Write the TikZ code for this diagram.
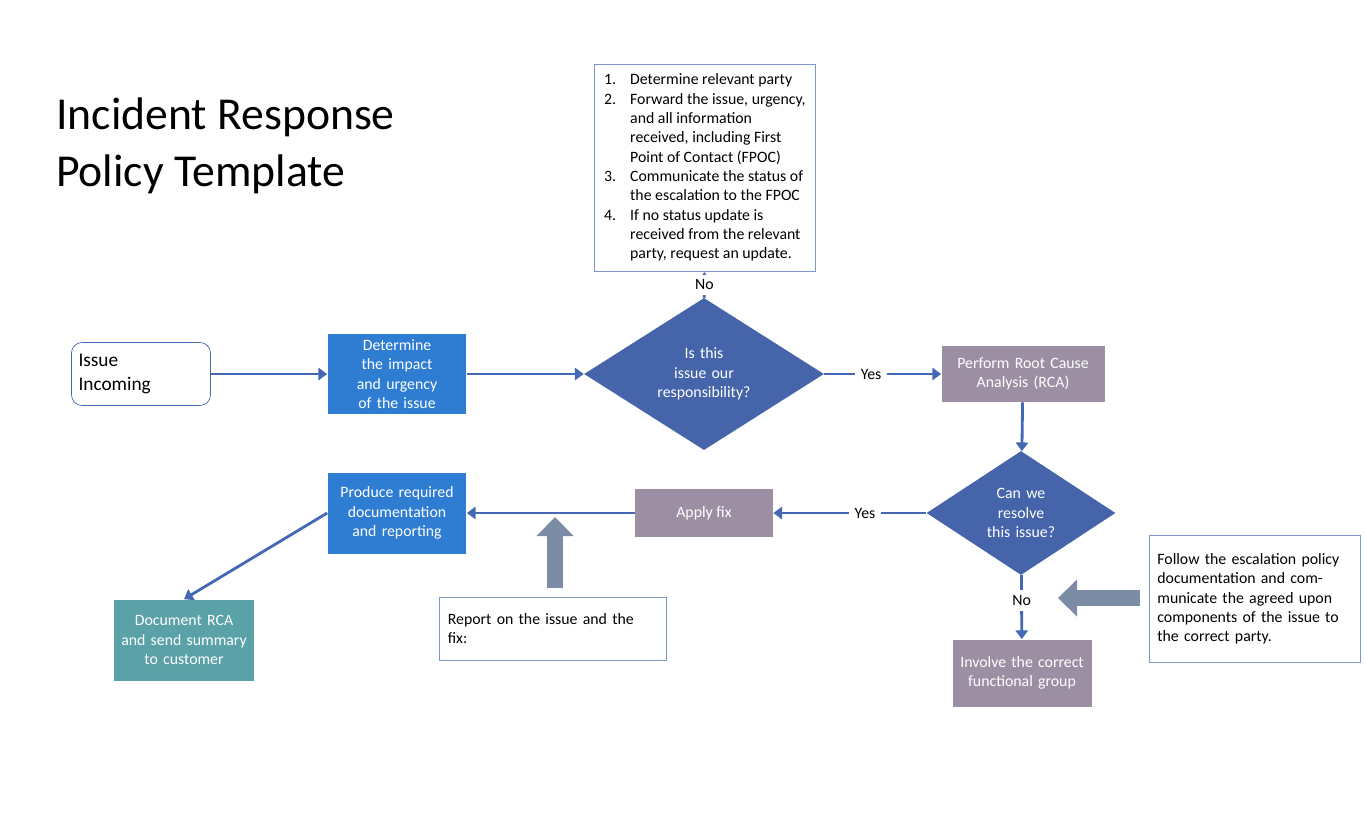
\documentclass[tikz,border=0pt]{standalone}
\usepackage{fontspec}
\setmainfont{Carlito}
\usetikzlibrary{shapes.geometric,arrows.meta}
\definecolor{boxblue}{RGB}{46,125,210}
\definecolor{diablue}{RGB}{70,100,170}
\definecolor{mauve}{RGB}{156,143,164}
\definecolor{teal2}{RGB}{90,162,168}
\definecolor{linkblue}{RGB}{68,104,180}
\definecolor{fatgrey}{RGB}{125,140,165}
\tikzset{
  box/.style={draw=none, text=white, align=center, font=\fontsize{9}{11}\selectfont, inner sep=2pt},
  note/.style={draw=linkblue!70, fill=white, align=left, font=\fontsize{9}{11}\selectfont, inner sep=4pt},
  dia/.style={diamond, fill=diablue, text=white, align=center, inner sep=0pt, font=\fontsize{9}{11}\selectfont},
  link/.style={draw=linkblue, line width=1.6pt, -{Triangle[length=5pt,width=7pt]}},
  lbl/.style={fill=white, font=\fontsize{9}{11}\selectfont, inner sep=3pt},
  fat/.style={draw=fatgrey, line width=0.32cm, -{Triangle[length=0.38cm,width=0.72cm]}}
}
\begin{document}
\begin{tikzpicture}[x=0.02cm,y=-0.02cm]
  \useasboundingbox (0,0) rectangle (1364,822);
  % Titel
  \node[anchor=north west, align=left, font=\fontsize{26}{32}\selectfont] (title) at (50,92) {Incident Response\\Policy Template};

  % Kasten
  \node[draw=linkblue, rounded corners=6pt, minimum width=2.78cm, minimum height=1.26cm, align=left, text width=2.5cm, font=\fontsize{11}{14}\selectfont] (issue) at (141,374) {Issue\\Incoming};
  \node[box, fill=boxblue, minimum width=2.78cm, minimum height=1.6cm, text width=2.3cm] (impact) at (397,374) {Determine the impact and urgency of the issue};
  \node[dia, minimum width=4.8cm, minimum height=2.16cm, text width=2cm] (resp) at (704,374) {Is this issue our responsibility?};
  \node[note, minimum width=4.42cm, minimum height=3.92cm, anchor=north west] (steps) at (594,64) {%
    \begin{tabular}{@{}l@{\hspace{8pt}}l@{}}
    1. & Determine relevant party\\
    2. & Forward the issue, urgency,\\
       & and all information\\
       & received, including First\\
       & Point of Contact (FPOC)\\
    3. & Communicate the status of\\
       & the escalation to the FPOC\\
    4. & If no status update is\\
       & received from the relevant\\
       & party, request an update.
    \end{tabular}};
  \node[box, fill=mauve, minimum width=3.26cm, minimum height=1.12cm, text width=3cm] (rca) at (1023,374) {Perform Root Cause Analysis (RCA)};
  \node[dia, minimum width=3.78cm, minimum height=2.16cm, text width=1.5cm] (resolve) at (1021,513) {Can we resolve this issue?};
  \node[box, fill=mauve, minimum width=2.76cm, minimum height=0.96cm] (fix) at (704,513) {Apply fix};
  \node[box, fill=boxblue, minimum width=2.78cm, minimum height=1.62cm, text width=2.6cm] (doc) at (397,513) {Produce required documentation and reporting};
  \node[box, fill=teal2, minimum width=2.8cm, minimum height=1.62cm, text width=2.6cm] (summary) at (184,640) {Document RCA and send summary to customer};
  \node[box, fill=mauve, minimum width=2.78cm, minimum height=1.34cm, text width=2.6cm] (group) at (1022,673) {Involve the correct functional group};
  \node[note, minimum width=4.54cm, minimum height=1.26cm, text width=4.2cm, anchor=north west, align=left] (report) at (439,597) {Report on the issue and the fix:};
  \node[note, minimum width=4.22cm, minimum height=2.54cm, text width=3.9cm, anchor=north west] (escal) at (1149,535) {Follow the escalation policy documentation and communicate the agreed upon components of the issue to the correct party.};

  % Verbindungen
  \draw[link] (issue) -- (impact);
  \draw[link] (impact) -- (resp);
  \draw[link] (resp) -- node[lbl]{No} (steps);
  \draw[link] (resp) -- node[lbl, pos=0.4]{Yes} (rca);
  \draw[link] (rca) -- (resolve);
  \draw[link] (resolve) -- node[lbl, pos=0.4]{Yes} (fix);
  \draw[link] (fix) -- (doc);
  \draw[link] (doc.west) -- (summary.north);
  \draw[link] (resolve) -- node[lbl, pos=0.4]{No} (group);

  % Blockpfeile
  \coordinate (up) at (555,517);
  \coordinate (left) at (1058,598);
  \draw[fat] (report.north -| up) ++(0,-9) -- (up);
  \draw[fat] (escal.west |- left) ++(-9,0) -- (left);
\end{tikzpicture}
\end{document}
